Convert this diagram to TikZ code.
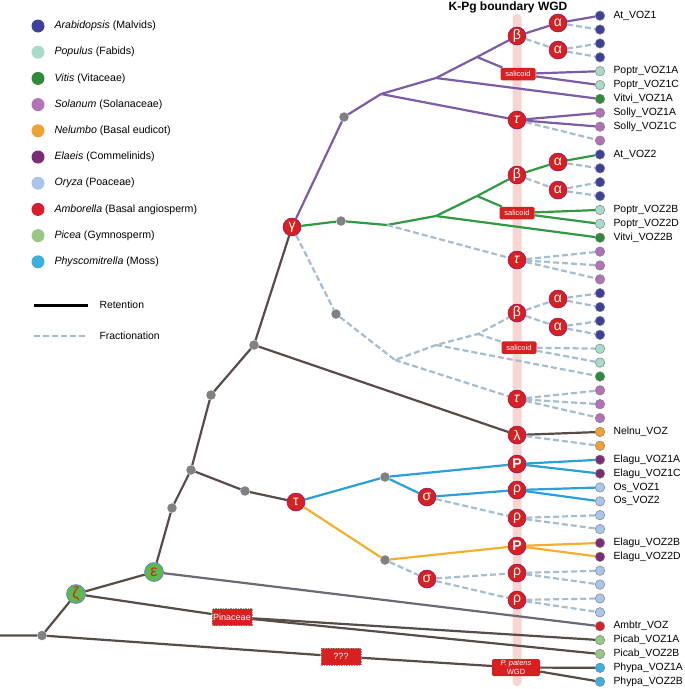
\documentclass[tikz,border=0pt]{standalone}
\usepackage{fontspec}
\setmainfont{Liberation Sans}
\usepackage{xcolor}
\usetikzlibrary{shapes,arrows}

\definecolor{ara}{HTML}{3F409A}
\definecolor{pop}{HTML}{A9DBCB}
\definecolor{vit}{HTML}{2E8B3C}
\definecolor{sol}{HTML}{B272B6}
\definecolor{nel}{HTML}{F0A134}
\definecolor{ela}{HTML}{7B2C74}
\definecolor{ory}{HTML}{A9C6EA}
\definecolor{amb}{HTML}{D71E2E}
\definecolor{pic}{HTML}{98C784}
\definecolor{phy}{HTML}{3CAEDF}
\definecolor{evred}{HTML}{D7201F}
\definecolor{earlygrn}{HTML}{5DB94B}
\definecolor{band}{HTML}{F6D6D2}
\definecolor{purp}{HTML}{7D5CA6}
\definecolor{grn}{HTML}{2F9A41}
\definecolor{blu}{HTML}{2B9FD8}
\definecolor{org}{HTML}{F2B02E}
\definecolor{brn}{HTML}{574C48}
\definecolor{slate}{HTML}{6C6876}
\definecolor{frac}{HTML}{A6BDCF}
\definecolor{dotgray}{HTML}{828082}

\begin{document}
\begin{tikzpicture}[x=1pt, y=-1pt,
  leaf/.style={circle, draw=black!50, line width=0.5pt, minimum size=9.5pt, inner sep=0pt},
  ev/.style={circle, fill=evred, draw=evred!60!blue, line width=0.5pt, minimum size=18pt, inner sep=0pt, text=white, font=\fontsize{14}{14}\selectfont},
  early/.style={ev, fill=earlygrn, text=evred, draw=blue!60, minimum size=19pt, font=\fontsize{16}{16}\selectfont},
  gdot/.style={circle, fill=dotgray, minimum size=9.5pt, inner sep=0pt},
  wgdbox/.style={rectangle, rounded corners=1.5pt, fill=evred, text=white, font=\fontsize{7.5}{8}\selectfont, minimum width=35pt, minimum height=12.5pt, inner sep=1pt},
  qbox/.style={wgdbox, rounded corners=0pt, draw=gray!80, dash pattern=on 1.5pt off 1pt, line width=0.9pt, minimum width=40pt, minimum height=17pt, font=\fontsize{9}{9}\selectfont},
  lab/.style={anchor=west, font=\fontsize{10.4}{12}\selectfont},
  ret/.style={line width=2.2pt},
  fr/.style={frac, line width=2.2pt, dash pattern=on 6pt off 3pt}]
\useasboundingbox (0,0) rectangle (685,689);

\fill[band, rounded corners=4pt] (512.5,14) rectangle (521.5,686);
\node[font=\fontsize{12}{12}\selectfont\bfseries] (title) at (508,7) {K-Pg boundary WGD};

\foreach \c [count=\i from 0] in {ara,ara,ara,ara,pop,pop,vit,sol,sol,sol,ara,ara,ara,ara,pop,pop,vit,sol,sol,sol,ara,ara,ara,ara,pop,pop,vit,sol,sol,sol,nel,nel,ela,ela,ory,ory,ory,ory,ela,ela,ory,ory,ory,ory,amb,pic,pic,phy,phy}
  \node[leaf, fill=\c] (l\i) at (600,{15.7+13.875*\i}) {};
\foreach \i/\t in {0/At\_VOZ1, 4/Poptr\_VOZ1A, 5/Poptr\_VOZ1C, 6/Vitvi\_VOZ1A, 7/Solly\_VOZ1A, 8/Solly\_VOZ1C, 10/At\_VOZ2, 14/Poptr\_VOZ2B, 15/Poptr\_VOZ2D, 16/Vitvi\_VOZ2B, 30/Nelnu\_VOZ, 32/Elagu\_VOZ1A, 33/Elagu\_VOZ1C, 34/Os\_VOZ1, 35/Os\_VOZ2, 38/Elagu\_VOZ2B, 39/Elagu\_VOZ2D, 44/Ambtr\_VOZ, 45/Picab\_VOZ1A, 46/Picab\_VOZ2B, 47/Phypa\_VOZ1A, 48/Phypa\_VOZ2B}
  \node[lab] (t\i) at ([xshift=5pt]l\i.east) {\t};

\foreach \c/\g/\f [count=\i from 0] in {ara/Arabidopsis/Malvids, pop/Populus/Fabids, vit/Vitis/Vitaceae, sol/Solanum/Solanaceae, nel/Nelumbo/Basal eudicot, ela/Elaeis/Commelinids, ory/Oryza/Poaceae, amb/Amborella/Basal angiosperm, pic/Picea/Gymnosperm, phy/Physcomitrella/Moss}
{
  \node[circle, fill=\c, minimum size=13pt, inner sep=0pt] (k\i) at (38,{26+26.2*\i}) {};
  \node[lab, font=\fontsize{10.6}{12}\selectfont] (kt\i) at (51,{26+26.2*\i}) {\textit{\g} (\f)};
}
\coordinate (retA) at (34,305);
\coordinate (retB) at (88,305);
\draw[line width=3pt] (retA) -- (retB);
\node[lab] (rett) at (96,305) {Retention};
\coordinate (frA) at (34,336);
\coordinate (frB) at (88,336);
\draw[fr] (frA) -- (frB);
\node[lab] (frt) at (96,336) {Fractionation};

% backbone
\coordinate (start) at (0,635.5);
\node[gdot] (root) at (42,635.5) {};
\node[early] (zeta) at (76,594) {ζ};
\node[early] (eps) at (154,572) {ε};
\node[gdot] (g7) at (172,508) {};
\node[gdot] (g6) at (191,470) {};
\node[gdot] (g5) at (211,395) {};
\node[gdot] (g4) at (254,345) {};
\node[ev] (gamma) at (292,227) {γ};
\node[gdot] (g8) at (245,491) {};
\node[ev] (tauM) at (296,502) {τ};
\node[qbox] (pin) at (232,617) {Pinaceae};
\node[qbox] (qq) at (341,656.5) {???};
\node[wgdbox, minimum width=48pt, minimum height=17pt, align=center, font=\fontsize{7.5}{8.5}\selectfont] (patens) at (516,667.5) {\textit{P. patens}\\WGD};

% eudicot nodes
\node[gdot] (g1) at (344,117) {};
\coordinate (jA) at (381,94);
\coordinate (jB) at (436,78);
\coordinate (jC) at (477,57);
\node[gdot] (g2) at (341,221) {};
\coordinate (jD) at (387,225);
\coordinate (jE) at (436,216);
\coordinate (jF) at (477,196);
\node[gdot] (g3) at (336,314) {};
\coordinate (jG) at (395,360);
\coordinate (jH) at (436,345);
\coordinate (jI) at (478,334);

\node[ev] (alphaA) at (558,23) {α};
\node[ev] (betaA) at (517,36) {β};
\node[ev] (alphaB) at (558,50) {α};
\node[wgdbox] (salA) at (518,74) {salicoid};
\node[ev] (tauA) at (517,120) {\textit{τ}};
\node[ev] (alphaC) at (558,162) {α};
\node[ev] (betaB) at (517,175) {β};
\node[ev] (alphaD) at (558,190) {α};
\node[wgdbox] (salB) at (517,213) {salicoid};
\node[ev] (tauB) at (517,260) {\textit{τ}};
\node[ev] (alphaE) at (558,299) {α};
\node[ev] (betaC) at (517,313) {β};
\node[ev] (alphaF) at (558,327) {α};
\node[wgdbox] (salC) at (519,347.5) {salicoid};
\node[ev] (tauC) at (517,399) {\textit{τ}};
\node[ev] (lambda) at (517,435) {λ};

% monocot nodes
\node[gdot] (g9) at (385,477) {};
\node[ev] (sigA) at (427,497) {σ};
\node[gdot] (g10) at (385,560) {};
\node[ev] (sigB) at (427,579) {σ};
\node[ev] (Pa) at (517,464) {\textbf{P}};
\node[ev] (rhoA) at (517,490) {ρ};
\node[ev] (rhoB) at (517,518) {ρ};
\node[ev] (Pb) at (517,546) {\textbf{P}};
\node[ev] (rhoC) at (517,573) {ρ};
\node[ev] (rhoD) at (517,600) {ρ};

\draw[ret, brn] (start) -- (root) -- (zeta) -- (eps) -- (g7) -- (g6) -- (g5) -- (g4) -- (gamma);
\draw[ret, brn] (g4) -- (lambda) -- (l30);
\draw[ret, brn] (g6) -- (g8) -- (tauM);
\draw[ret, brn] (zeta) -- (pin) -- (l45);
\draw[ret, brn] (pin) -- (l46);
\draw[ret, brn] (root) -- (qq) -- (patens) -- (l47);
\draw[ret, brn] (patens) -- (l48);
\draw[ret, slate] (eps) -- (l44);
\draw[fr] (lambda) -- (l31);

\draw[ret, purp] (gamma) -- (g1) -- (jA) -- (jB) -- (jC) -- (betaA) -- (alphaA) -- (l0);
\draw[ret, purp] (jC) -- (salA) -- (l4);
\draw[ret, purp] (salA) -- (l5);
\draw[ret, purp] (jB) -- (l6);
\draw[ret, purp] (jA) -- (tauA) -- (l7);
\draw[ret, purp] (tauA) -- (l8);
\draw[fr] (betaA) -- (alphaB) -- (l2);
\draw[fr] (alphaB) -- (l3);
\draw[fr] (alphaA) -- (l1);
\draw[fr] (tauA) -- (l9);

\draw[ret, grn] (gamma) -- (g2) -- (jD) -- (jE) -- (jF) -- (betaB) -- (alphaC) -- (l10);
\draw[ret, grn] (jF) -- (salB) -- (l14);
\draw[ret, grn] (salB) -- (l15);
\draw[ret, grn] (jE) -- (l16);
\draw[fr] (betaB) -- (alphaD) -- (l12);
\draw[fr] (alphaD) -- (l13);
\draw[fr] (alphaC) -- (l11);
\draw[fr] (jD) -- (tauB) -- (l17);
\draw[fr] (tauB) -- (l18);
\draw[fr] (tauB) -- (l19);

\draw[fr] (gamma) -- (g3) -- (jG) -- (jH) -- (jI) -- (betaC) -- (alphaE) -- (l20);
\draw[fr] (alphaE) -- (l21);
\draw[fr] (betaC) -- (alphaF) -- (l22);
\draw[fr] (alphaF) -- (l23);
\draw[fr] (jI) -- (salC) -- (l24);
\draw[fr] (salC) -- (l25);
\draw[fr] (jH) -- (l26);
\draw[fr] (jG) -- (tauC) -- (l27);
\draw[fr] (tauC) -- (l28);
\draw[fr] (tauC) -- (l29);

\draw[ret, blu] (tauM) -- (g9) -- (Pa) -- (l32);
\draw[ret, blu] (Pa) -- (l33);
\draw[ret, blu] (g9) -- (sigA) -- (rhoA) -- (l34);
\draw[ret, blu] (rhoA) -- (l35);
\draw[fr] (sigA) -- (rhoB) -- (l36);
\draw[fr] (rhoB) -- (l37);

\draw[ret, org] (tauM) -- (g10) -- (Pb) -- (l38);
\draw[ret, org] (Pb) -- (l39);
\draw[fr] (g10) -- (sigB) -- (rhoC) -- (l40);
\draw[fr] (rhoC) -- (l41);
\draw[fr] (sigB) -- (rhoD) -- (l42);
\draw[fr] (rhoD) -- (l43);
\end{tikzpicture}
\end{document}
